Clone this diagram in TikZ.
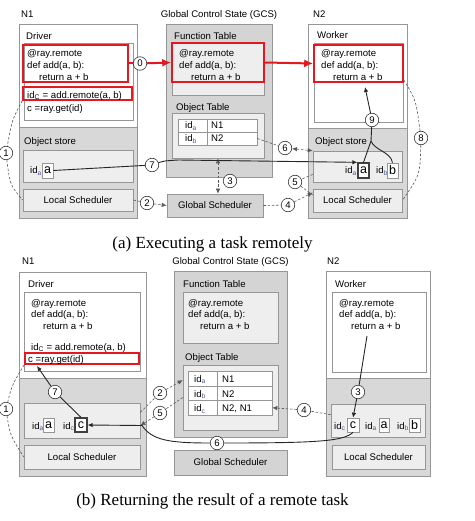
\documentclass[tikz,border=0pt]{standalone}
\usepackage{fontspec}
\setmainfont{Liberation Serif}
\setsansfont{Liberation Sans}
\usetikzlibrary{arrows.meta}

\definecolor{rayred}{RGB}{228,24,32}
\definecolor{nodegray}{RGB}{216,216,216}
\definecolor{gcsgray}{RGB}{212,212,212}
\definecolor{paneltint}{RGB}{238,238,238}
\definecolor{framegray}{RGB}{150,150,150}
\definecolor{subblue}{RGB}{80,90,150}

\newcommand{\objid}[1]{id\textsubscript{\color{subblue}#1}}
% box from corner (x1,y1) to corner (x2,y2): style, name, x1, y1, x2, y2, text
\newcommand{\boxnode}[7]{%
  \node[#1, minimum width={(#5-#3)*1pt}, minimum height={(#6-#4)*1pt}]
    (#2) at ({(#3+#5)/2},{(#4+#6)/2}) {#7};}
% three lines of the remote function
\newcommand{\raycode}[3]{%
  \node[lbl] (#1-1) at (#2,#3) {@ray.remote};
  \node[lbl] (#1-2) at (#2,#3+11.8) {def add(a, b):};
  \node[lbl] (#1-3) at (#2+12,#3+23.6) {return a + b};}

\tikzset{
  frame/.style={draw=framegray, line width=0.6pt, inner sep=0pt},
  whitebox/.style={frame, fill=white},
  nodebox/.style={frame, fill=nodegray},
  gcsbox/.style={frame, fill=gcsgray},
  panel/.style={frame, fill=paneltint},
  redbox/.style={draw=rayred, line width=1.6pt, inner sep=0pt},
  item/.style={whitebox, font=\sffamily\fontsize{12.5}{12}\selectfont},
  bolditem/.style={item, draw=black!75, line width=1.3pt},
  num/.style={circle, draw=black!80, fill=white, line width=0.6pt, inner sep=0pt, minimum size=13.5pt},
  lbl/.style={anchor=base west, inner sep=0pt},
  title/.style={anchor=base, inner sep=0pt},
  data/.style={draw=black!85, line width=0.9pt},
  ctl/.style={draw=black!65, line width=0.6pt, dash pattern=on 2.5pt off 1.8pt},
  tip/.style={-{Latex[length=5pt,width=4.5pt]}},
  both/.style={{Latex[length=5pt,width=4.5pt]}-{Latex[length=5pt,width=4.5pt]}},
  redarrow/.style={draw=rayred, line width=2pt, -{Latex[length=9pt,width=8pt]}},
  caption/.style={font=\rmfamily\fontsize{17}{20}\selectfont, anchor=base, inner sep=0pt}
}

\begin{document}
\begin{tikzpicture}[x=1pt,y=-1pt,font=\sffamily\fontsize{9.6}{11}\selectfont]
\useasboundingbox (0,0) rectangle (474,521);

%% (a) executing a task remotely
% N1
\node[lbl] (n1a-lbl) at (21,18) {N1};
\boxnode{whitebox}{n1a}{19}{24}{137}{218}{}
\boxnode{nodebox}{n1a-os}{19}{127}{137}{218}{}
\node[lbl] (drv1-lbl) at (26,40) {Driver};
\boxnode{whitebox}{drv1}{24}{43}{133}{120}{}
\boxnode{redbox}{fa1}{23}{45}{128}{82}{}
\boxnode{redbox}{rid}{23}{87}{132}{100}{}
\raycode{dc1}{27}{57}
\node[lbl] (rid-txt) at (27,98.5) {id\textsubscript{C} = add.remote(a, b)};
\node[lbl] (get1-txt) at (27,111.5) {c =ray.get(id)};
\node[lbl] (os1-lbl) at (24,145) {Object store};
\boxnode{panel}{os1}{23}{150}{133}{182}{}
\node[lbl] (a1-id) at (30,174) {\objid{a}};
\boxnode{item}{a1}{42}{163}{53}{178}{a}
\boxnode{panel}{ls1}{23}{189}{133}{211}{Local Scheduler}

% GCS
\node[title] (gcs1-lbl) at (219,18) {Global Control State (GCS)};
\boxnode{gcsbox}{gcs1}{166}{24}{272}{177}{}
\node[lbl] (ft1-lbl) at (174,40) {Function Table};
\boxnode{panel}{ft1}{172}{43}{264}{95}{}
\boxnode{redbox}{gfa}{172}{43}{264}{82}{}
\raycode{gc1}{179}{57}
\node[lbl] (ot1-lbl) at (176,110.5) {Object Table};
\boxnode{panel}{ot1}{172}{113}{264}{158}{}
\boxnode{whitebox}{ta-ka}{178}{119}{207}{132}{}
\boxnode{whitebox}{ta-va}{207}{119}{257}{132}{}
\boxnode{whitebox}{ta-kb}{178}{132}{207}{145}{}
\boxnode{whitebox}{ta-vb}{207}{132}{257}{145}{}
\node[lbl] (ta-ka-t) at (185,129) {\objid{a}};
\node[lbl] (ta-va-t) at (211,129) {N1};
\node[lbl] (ta-kb-t) at (185,142) {\objid{b}};
\node[lbl] (ta-vb-t) at (211,142) {N2};
\boxnode{gcsbox}{gs1}{167}{194}{263}{217}{Global Scheduler}

% N2
\node[lbl] (n2a-lbl) at (313,18) {N2};
\boxnode{whitebox}{n2a}{308}{24}{407}{218}{}
\boxnode{nodebox}{n2a-os}{308}{128}{407}{218}{}
\node[lbl] (wrk1-lbl) at (317,39) {Worker};
\boxnode{whitebox}{wrk1}{314}{43}{403}{122}{}
\boxnode{redbox}{wfa}{314}{45}{403}{82}{}
\raycode{wc1}{321}{57}
\node[lbl] (os2-lbl) at (315,145) {Object store};
\boxnode{panel}{os2}{313}{151}{402}{182}{}
\node[lbl] (a2-id) at (345,174) {\objid{a}};
\boxnode{bolditem}{a2}{358}{163}{369}{178}{a}
\node[lbl] (b2-id) at (376,174) {\objid{b}};
\boxnode{item}{b2}{387}{163}{398}{178}{b}
\boxnode{panel}{ls2}{313}{189}{402}{212}{Local Scheduler}

% steps
\node[num] (c0) at (140,63.5) {0};
\node[num] (c1) at (6,153) {1};
\node[num] (c2) at (147,203) {2};
\node[num] (c3) at (230,181) {3};
\node[num] (c4) at (288,205) {4};
\node[num] (c5) at (295,182) {5};
\node[num] (c6) at (285,148) {6};
\node[num] (c7) at (152,165) {7};
\node[num] (c8) at (421,138) {8};
\node[num] (c9) at (372,120) {9};
\coordinate (k7) at (178,160);
\coordinate (j9) at (371,141);
\coordinate (t9) at (365,87);

\draw[draw=rayred, line width=2pt] (fa1.east) -- (c0);
\draw[redarrow] (c0) -- (gfa.west);
\draw[redarrow] (gfa.east) -- (wfa.west);
\draw[ctl] (rid.south west) .. controls (12,120) .. (c1) .. controls (10,185) .. (ls1.west);
\draw[ctl,tip] (ls1.east) -- (c2) -- (gs1.west);
\draw[ctl,both] (ot1.south) -- (ot1.south |- gs1.north);
\draw[ctl,tip] (gs1.east) -- (c4) -- (ls2.170);
\draw[ctl] (os2.190) -- (c5) -- (ls2.173);
\draw[ctl,both] (ta-vb.east) -- (c6) -- (os2.north west);
\draw[data] (a1.east) -- (c7);
\draw[data,tip] (c7) .. controls (163,161) .. (k7) -- (a2.north west);
\draw[ctl] (wfa.-20) .. controls (416,100) .. (c8) .. controls (420,175) .. (ls2.east);
\draw[data] (a2.north) -- (j9);
\draw[data] (b2.north) .. controls (391,152) and (374,150) .. (j9);
\draw[data,tip] (j9) -- (c9) -- (t9);

\node[caption] (cap-a) at (212.5,248) {(a) Executing a task remotely};

%% (b) returning the result
% N1
\node[lbl] (n1b-lbl) at (22,264) {N1};
\boxnode{whitebox}{n1b}{19}{272}{146}{476}{}
\boxnode{nodebox}{n1b-os}{19}{378}{146}{476}{}
\node[lbl] (drv2-lbl) at (28,287) {Driver};
\boxnode{whitebox}{drv2}{24}{292}{140}{371}{}
\boxnode{redbox}{rget}{25}{353}{139}{364}{}
\raycode{dc2}{31}{306}
\node[lbl] (rem2-txt) at (31,350) {id\textsubscript{C} = add.remote(a, b)};
\node[lbl] (rget-txt) at (28,362) {c =ray.get(id)};
\boxnode{panel}{os3}{24}{403}{140}{438}{}
\node[lbl] (a3-id) at (32,429) {\objid{a}};
\boxnode{item}{a3}{43}{418}{54}{432}{a}
\node[lbl] (c3-id) at (63,429) {\objid{c}};
\boxnode{bolditem}{c3}{75}{418}{87}{432}{c}
\boxnode{panel}{ls3}{24}{445}{140}{469}{Local Scheduler}

% GCS
\node[title] (gcs2-lbl) at (230.5,264) {Global Control State (GCS)};
\boxnode{gcsbox}{gcs2}{174}{271}{287}{437}{}
\node[lbl] (ft2-lbl) at (183,287) {Function Table};
\boxnode{panel}{ft2}{183}{292}{278}{343}{}
\raycode{gc2}{188}{306}
\node[lbl] (ot3-lbl) at (185,360.5) {Object Table};
\boxnode{panel}{ot3}{183}{365}{278}{430}{}
\boxnode{whitebox}{tb-ka}{188}{371}{217}{386}{}
\boxnode{whitebox}{tb-va}{217}{371}{272}{386}{}
\boxnode{whitebox}{tb-kb}{188}{386}{217}{400.5}{}
\boxnode{whitebox}{tb-vb}{217}{386}{272}{400.5}{}
\boxnode{whitebox}{tb-kc}{188}{400.5}{217}{415}{}
\boxnode{whitebox}{tb-vc}{217}{400.5}{272}{415}{}
\node[lbl] (tb-ka-t) at (194,382) {\objid{a}};
\node[lbl] (tb-va-t) at (222,382) {N1};
\node[lbl] (tb-kb-t) at (194,397) {\objid{b}};
\node[lbl] (tb-vb-t) at (222,397) {N2};
\node[lbl] (tb-kc-t) at (194,411.5) {\objid{c}};
\node[lbl] (tb-vc-t) at (222,411.5) {N2, N1};
\boxnode{gcsbox}{gs2}{174}{450}{287}{475}{Global Scheduler}

% N2
\node[lbl] (n2b-lbl) at (327,264) {N2};
\boxnode{whitebox}{n2b}{326}{271}{430}{476}{}
\boxnode{nodebox}{n2b-os}{326}{378}{430}{476}{}
\node[lbl] (wrk2-lbl) at (335,287) {Worker};
\boxnode{whitebox}{wrk2}{332}{292}{426}{372}{}
\raycode{wc2}{339}{306}
\boxnode{panel}{os4}{331}{404}{425}{437}{}
\node[lbl] (c4-id) at (334,429) {\objid{c}};
\boxnode{item}{c4}{347}{418}{359}{432}{c}
\node[lbl] (a4-id) at (365,429) {\objid{a}};
\boxnode{item}{a4}{379}{418}{389}{432}{a}
\node[lbl] (b4-id) at (397,429) {\objid{b}};
\boxnode{item}{b4}{409}{418}{420}{432}{b}
\boxnode{panel}{ls4}{332}{445}{425}{469}{Local Scheduler}

% steps
\node[num] (d1) at (6,409) {1};
\node[num] (d2) at (160,393) {2};
\node[num] (d3) at (358,392) {3};
\node[num] (d4) at (304,410) {4};
\node[num] (d5) at (160,413) {5};
\node[num] (d6) at (217,443) {6};
\node[num] (d7) at (55,392) {7};
\coordinate (s3) at (367,336);
\coordinate (k6) at (142,425.5);
\coordinate (t7) at (37,366);

\draw[ctl] (rget.south west) .. controls (12,385) .. (d1) .. controls (10,435) .. (ls3.west);
\draw[ctl,tip] (os3.8) -- (d2) -- (ot3.160);
\draw[data,tip] (s3) -- (d3) -- (c4.north);
\draw[ctl,tip] (os4.173) -- (d4) -- (tb-vc.east);
\draw[ctl,tip] (ot3.west) -- (d5) -- (os3.355);
\draw[data,tip] (c4.south) .. controls (344,441) and (320,443) .. (d6) .. controls (168,443) and (152,440) .. (k6) -- (c3.east);
\draw[data,tip] (c3.north) -- (d7) -- (t7);

\node[caption] (cap-b) at (212.5,505) {(b) Returning the result of a remote task};
\end{tikzpicture}
\end{document}
